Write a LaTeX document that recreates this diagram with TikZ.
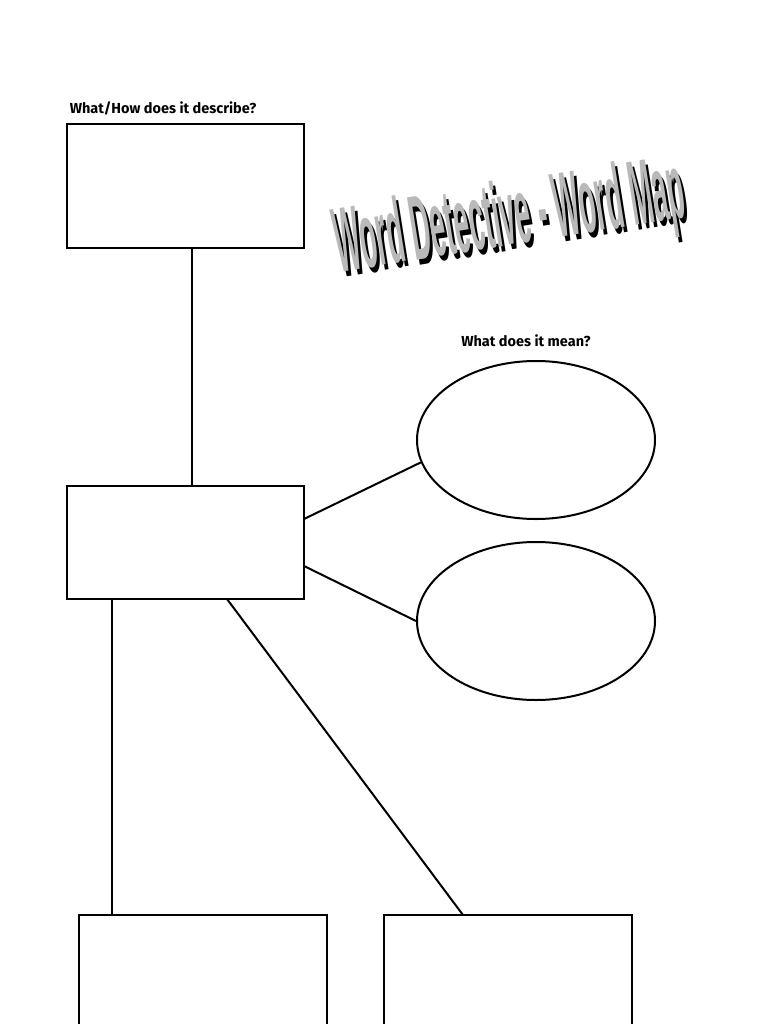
\documentclass[tikz,border=0pt]{standalone}
\usepackage{fontspec}
\setmainfont{Liberation Sans}
\newfontfamily\labfont{Fira Sans}
\usetikzlibrary{shapes.geometric}
\begin{document}
\begin{tikzpicture}[x=1pt,y=-1pt,
  box/.style={draw,line width=2pt},
  conn/.style={line width=2pt},
  lab/.style={font=\labfont\fontsize{14.5}{16}\selectfont\bfseries}]
\useasboundingbox (0,0) rectangle (768,1024);
\draw[box] (67,124) rectangle (304,248);
\coordinate (tb) at (192,248);
\draw[box] (67,486) rectangle (304,599);
\coordinate (mt) at (192,486);
\draw[box] (79,915) rectangle (327,1030);
\draw[box] (384,915) rectangle (632,1030);
\node[draw,line width=2pt,ellipse,minimum width=238pt,minimum height=158pt,inner sep=0] (e1) at (536,440) {};
\node[draw,line width=2pt,ellipse,minimum width=238pt,minimum height=158pt,inner sep=0] (e2) at (536,621) {};
\draw[conn] (tb) -- (mt);
\draw[conn] (304,519) -- (e1.191);
\draw[conn] (304,566) -- (e2.west);
\draw[conn] (112,599) -- (112,915);
\draw[conn] (227,599) -- (463,915);
\node[lab] (l1) at (163,108) {What/How does it describe?};
\node[lab] (l2) at (526,341) {What does it mean?};
\node[rotate=9,xscale=0.8,yscale=2.7,font=\bfseries\fontsize{34}{40}\selectfont,text=black] (ts) at (513,226) {Word Detective - Word Map};
\node[rotate=9,xscale=0.8,yscale=2.7,font=\bfseries\fontsize{34}{40}\selectfont,text=gray!55] (t) at (510,221) {Word Detective - Word Map};
\end{tikzpicture}
\end{document}
